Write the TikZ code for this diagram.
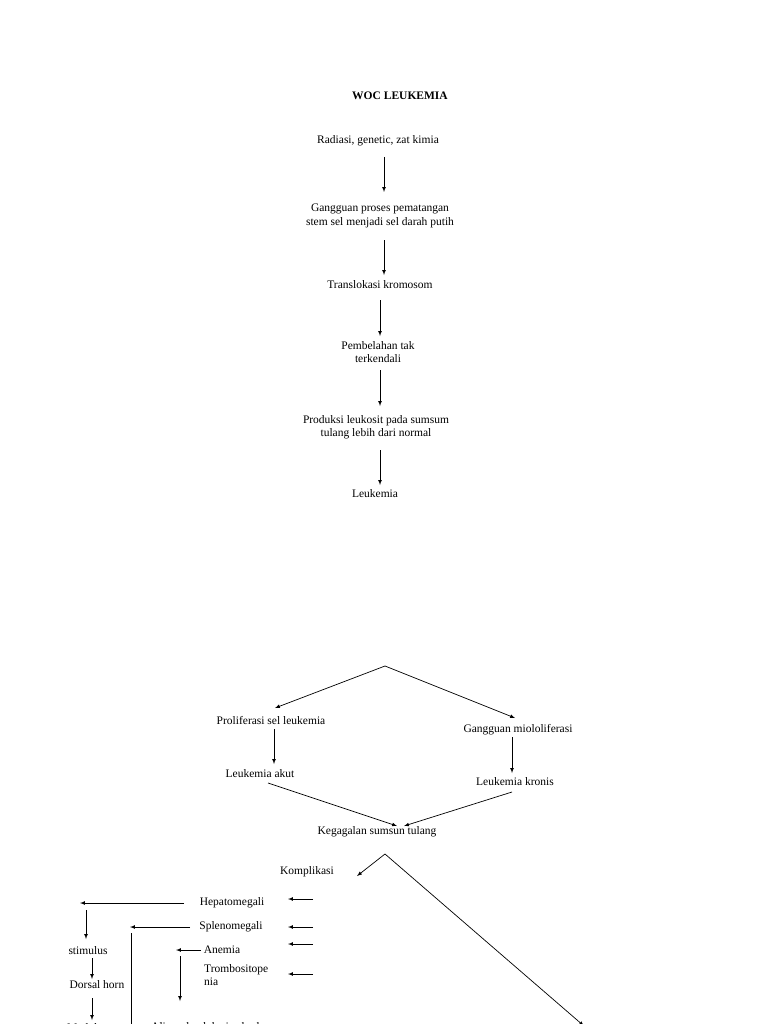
\documentclass[tikz,border=0pt]{standalone}
\usepackage{fontspec}
\setmainfont{Liberation Serif}
\begin{document}
\begin{tikzpicture}[x=1pt,y=-1pt,
  lbl/.style={font=\fontsize{11.5}{13.5}\selectfont,inner sep=1pt,align=center},
  arr/.style={-latex,line width=0.7pt},
  ln/.style={line width=0.7pt}]
\clip (0,0) rectangle (768,1024);
\useasboundingbox (0,0) rectangle (768,1024);
\node[lbl,font=\fontsize{11.5}{13.5}\selectfont\bfseries] (t) at (400,96) {WOC LEUKEMIA};
\node[lbl] (a) at (378,141) {Radiasi, genetic, zat kimia};
\node[lbl] (b) at (380,216) {Gangguan proses pematangan\\stem sel menjadi sel darah putih};
\node[lbl] (c) at (380,285) {Translokasi kromosom};
\node[lbl] (d) at (378,352) {Pembelahan tak\\terkendali};
\node[lbl] (e) at (376,427) {Produksi leukosit pada sumsum\\tulang lebih dari normal};
\node[lbl] (f) at (375,494) {Leukemia};
\coordinate (a1) at (384,157); \coordinate (a2) at (384,192);
\coordinate (b1) at (384,240); \coordinate (b2) at (384,275);
\coordinate (c1) at (380,300); \coordinate (c2) at (380,336);
\coordinate (d1) at (380,370); \coordinate (d2) at (380,406);
\coordinate (e1) at (380,450); \coordinate (e2) at (380,485);
\draw[arr] (a1)--(a2); \draw[arr] (b1)--(b2); \draw[arr] (c1)--(c2);
\draw[arr] (d1)--(d2); \draw[arr] (e1)--(e2);
% lower part
\coordinate (apex) at (385,666);
\node[lbl] (p) at (271,720) {Proliferasi sel leukemia};
\node[lbl] (g) at (518,730) {Gangguan miololiferasi};
\node[lbl] (la) at (260,774) {Leukemia akut};
\node[lbl] (lk) at (515,782) {Leukemia kronis};
\node[lbl] (k) at (377,832) {Kegagalan sumsun tulang};
\draw[arr] (apex)--(275,708);
\draw[arr] (apex)--(515,718);
\draw[arr] (274,729)--(274,764);
\draw[arr] (512,737)--(512,773);
\draw[arr] (268,783)--(397,826);
\draw[arr] (512,792)--(404,826);
\node[lbl] (ko) at (307,872) {Komplikasi};
\coordinate (k2) at (385,854);
\draw[arr] (k2)--(357,876);
\draw[arr] (k2)--(584,1026);
\node[lbl] (h) at (232,903) {Hepatomegali};
\node[lbl] (s) at (231,927) {Splenomegali};
\node[lbl] (an) at (222,950) {Anemia};
\node[lbl,align=left,anchor=west] (tr) at (203,975) {Trombositope\\nia};
\draw[arr] (313,899)--(288,899);
\draw[arr] (313,927)--(288,927);
\draw[arr] (313,944)--(288,944);
\draw[arr] (313,974)--(288,974);
\draw[arr] (184,903)--(80,903);
\draw[arr] (86,910)--(86,939);
\draw[arr] (190,927)--(130,927);
\draw[ln] (131,933)--(131,1030);
\draw[arr] (201,950)--(176,950);
\draw[arr] (180,956)--(180,1001);
\node[lbl] (st) at (88,951) {stimulus};
\node[lbl] (dh) at (97,985) {Dorsal horn};
\draw[arr] (92,958)--(92,979);
\draw[arr] (92,998)--(92,1020);
\node[lbl,anchor=west] (m) at (66,1028) {Medula};
\node[lbl,anchor=west] (al) at (150,1028) {Aliran darah ke jaa berkurang};
\end{tikzpicture}
\end{document}
